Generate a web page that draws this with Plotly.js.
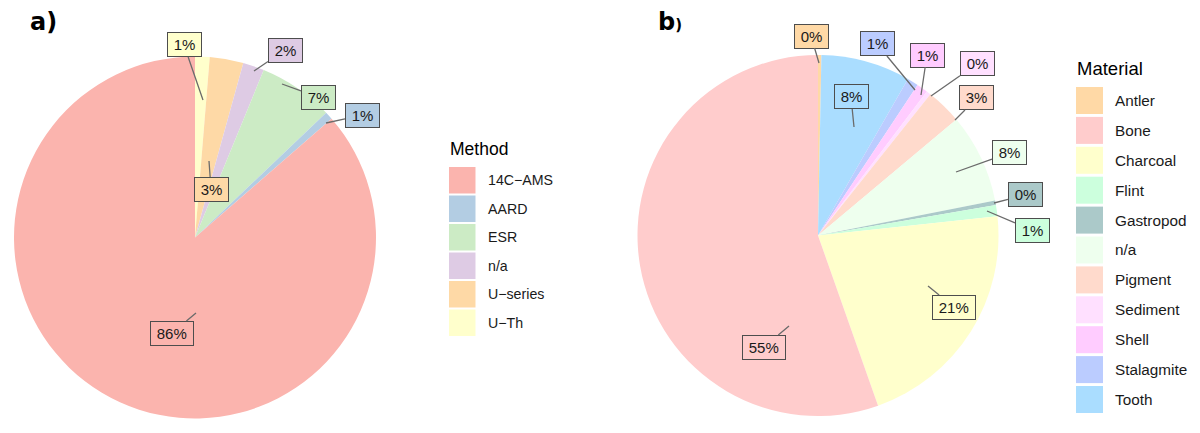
<!DOCTYPE html>
<html>
<head>
<meta charset="utf-8">
<script src="https://cdn.plot.ly/plotly-3.0.1.min.js"></script>
<style>
  body { margin: 0; background: #fff; }
  #chart { width: 1200px; height: 433px; }
</style>
</head>
<body>
<div id="chart"></div>
<script>
// Panel a: dating method shares (legend order)
const methods = ['14C−AMS', 'AARD', 'ESR', 'n/a', 'U−series', 'U−Th'];
const methodValues = [86.4, 0.7, 6.7, 1.9, 3.0, 1.3];
const methodColors = ['#FBB4AE', '#B3CDE3', '#CCEBC5', '#DECBE4', '#FED9A6', '#FFFFCC'];

// Panel b: sample material shares (legend order)
const materials = ['Antler', 'Bone', 'Charcoal', 'Flint', 'Gastropod', 'n/a',
  'Pigment', 'Sediment', 'Shell', 'Stalagmite', 'Tooth'];
const materialValues = [0.3, 55.4, 21.3, 1.0, 0.4, 8.0, 3.2, 0.4, 1.0, 1.0, 8.0];
const materialColors = ['#FFD9A6', '#FFCCCC', '#FFFFCC', '#CCFFDD', '#ABC9C9', '#EEFFEE',
  '#FFDACC', '#FFE0FF', '#FFCCFF', '#BBCCFF', '#AADDFF'];

// Slice order going clockwise from 12 o'clock
const methodOrder = [5, 4, 3, 2, 1, 0];
const materialOrder = [0, 10, 9, 8, 7, 6, 5, 4, 3, 2, 1];

// Label placement in pixels: [anchor x, anchor y, box x, box y]
const methodLabelPos = [
  [196, 313, 172, 333], [326, 123, 362, 115], [282, 84, 318, 97],
  [254, 71, 285, 50], [209, 161, 211, 189], [203, 100, 184, 45]
];
const materialLabelPos = [
  [819, 63, 811, 36], [789, 326, 764, 347], [928, 286, 954, 307],
  [987, 211, 1032, 230], [994, 203, 1025, 195], [956, 172, 1009, 153],
  [955, 120, 977, 98], [931, 96, 977, 64], [921, 95, 927, 55],
  [915, 90, 877, 44], [854, 127, 851, 97]
];

const W = 1200, H = 433;
const px = x => x / W;
const py = y => 1 - y / H;

const makePie = (labels, values, colors, order, domain) => ({
  type: 'pie',
  labels: order.map(i => labels[i]),
  values: order.map(i => values[i]),
  marker: { colors: order.map(i => colors[i]), line: { width: 0 } },
  sort: false,
  direction: 'clockwise',
  rotation: 0,
  textinfo: 'none',
  hoverinfo: 'skip',
  showlegend: false,
  domain: domain
});

const traces = [
  makePie(methods, methodValues, methodColors, methodOrder,
    { x: [px(14), px(376)], y: [py(418.5), py(56.5)] }),
  makePie(materials, materialValues, materialColors, materialOrder,
    { x: [px(637.5), px(998.5)], y: [py(416), py(55)] })
];

// Boxed percentage labels with leader lines
const makeLabels = (values, colors, pos) => {
  const total = values.reduce((a, b) => a + b, 0);
  return values.map((v, i) => {
    const txt = Math.round(100 * v / total) + '%';
    const p = pos[i];
    return {
      xref: 'paper', yref: 'paper',
      x: px(p[0]), y: py(p[1]),
      ax: p[2] - p[0], ay: p[3] - p[1],
      text: txt,
      showarrow: true, arrowhead: 0, arrowwidth: 1.3, arrowcolor: '#6b6b6b', standoff: 0,
      bgcolor: colors[i], bordercolor: '#4d4d4d', borderwidth: 1, borderpad: 3,
      width: 8.5 * txt.length + 10,
      font: { family: 'Liberation Sans, Arial, sans-serif', size: 15, color: '#1a1a1a' }
    };
  });
};

// Hand-built legends with large square keys
const makeLegend = (title, labels, colors, x0, titleY, keyY0, step, keySize, fs, tfs) => {
  const shapes = [];
  const notes = [{
    xref: 'paper', yref: 'paper', x: px(x0 - 1), y: py(titleY),
    xanchor: 'left', yanchor: 'middle', showarrow: false, text: title,
    font: { family: 'Liberation Sans, Arial, sans-serif', size: tfs, color: '#000' }
  }];
  labels.forEach((lab, i) => {
    const y0 = keyY0 + i * step;
    shapes.push({
      type: 'rect', xref: 'paper', yref: 'paper',
      x0: px(x0), x1: px(x0 + keySize), y0: py(y0), y1: py(y0 + keySize),
      fillcolor: colors[i], line: { width: 0 }
    });
    notes.push({
      xref: 'paper', yref: 'paper', x: px(x0 + keySize + 10), y: py(y0 + keySize / 2),
      xanchor: 'left', yanchor: 'middle', showarrow: false, text: lab,
      font: { family: 'Liberation Sans, Arial, sans-serif', size: fs, color: '#1a1a1a' }
    });
  });
  return { shapes, notes };
};

const legA = makeLegend('Method', methods, methodColors, 449, 149, 167, 28.5, 26.5, 14.2, 17.5);
const legB = makeLegend('Material', materials, materialColors, 1076, 68, 87, 29.9, 27, 15.3, 18.5);

const panelTitles = [
  { xref: 'paper', yref: 'paper', x: px(28), y: py(22), xanchor: 'left', yanchor: 'middle',
    showarrow: false, text: '<b>a)</b>',
    font: { family: 'DejaVu Sans, sans-serif', size: 24, color: '#000' } },
  { xref: 'paper', yref: 'paper', x: px(656), y: py(22), xanchor: 'left', yanchor: 'middle',
    showarrow: false, text: '<b>b<span style="font-size:15px">)</span></b>',
    font: { family: 'DejaVu Sans, sans-serif', size: 24, color: '#000' } }
];

const layout = {
  width: W, height: H,
  margin: { l: 0, r: 0, t: 0, b: 0 },
  paper_bgcolor: '#fff',
  showlegend: false,
  shapes: [...legA.shapes, ...legB.shapes],
  annotations: [
    ...makeLabels(methodValues, methodColors, methodLabelPos),
    ...makeLabels(materialValues, materialColors, materialLabelPos),
    ...legA.notes, ...legB.notes, ...panelTitles
  ]
};

Plotly.newPlot('chart', traces, layout, { staticPlot: true, displayModeBar: false });
</script>
</body>
</html>
